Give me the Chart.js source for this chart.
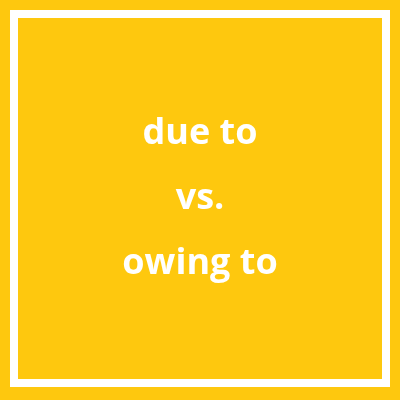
<!DOCTYPE html>
<html>
<head>
<meta charset="utf-8">
<script src="https://cdn.jsdelivr.net/npm/chart.js@4.4.0/dist/chart.umd.min.js"></script>
<style>
  html, body { margin: 0; padding: 0; background: #fec80e; }
  #card { width: 400px; height: 400px; }
</style>
</head>
<body>
<canvas id="card" width="400" height="400"></canvas>
<script>
// Text lines on the card
const titleLines = ['due to', 'vs.', 'owing to'];
const categories = [];
const values = [];

const yellow = '#fec80e';
const white = '#ffffff';

// paint the yellow card and its white frame
const cardBackground = {
    id: 'cardBackground',
    beforeDraw(chart) {
        const ctx = chart.ctx;
        ctx.save();
        ctx.fillStyle = yellow;
        ctx.fillRect(0, 0, chart.width, chart.height);
        ctx.strokeStyle = white;
        ctx.lineWidth = 8;
        ctx.strokeRect(14, 14, 372, 369);
        ctx.restore();
    }
};

new Chart(document.getElementById('card'), {
    type: 'bar',
    data: {
        labels: categories,
        datasets: [{ data: values }]
    },
    options: {
        responsive: false,
        animation: false,
        layout: { padding: 0 },
        scales: {
            x: { display: false },
            y: { display: false }
        },
        plugins: {
            legend: { display: false },
            tooltip: { enabled: false },
            title: {
                display: true,
                text: titleLines,
                color: white,
                font: { family: '"Open Sans", sans-serif', size: 36, weight: 'bold', lineHeight: 65 / 36 },
                padding: { top: 101, bottom: 0 }
            }
        }
    },
    plugins: [cardBackground]
});
</script>
</body>
</html>
